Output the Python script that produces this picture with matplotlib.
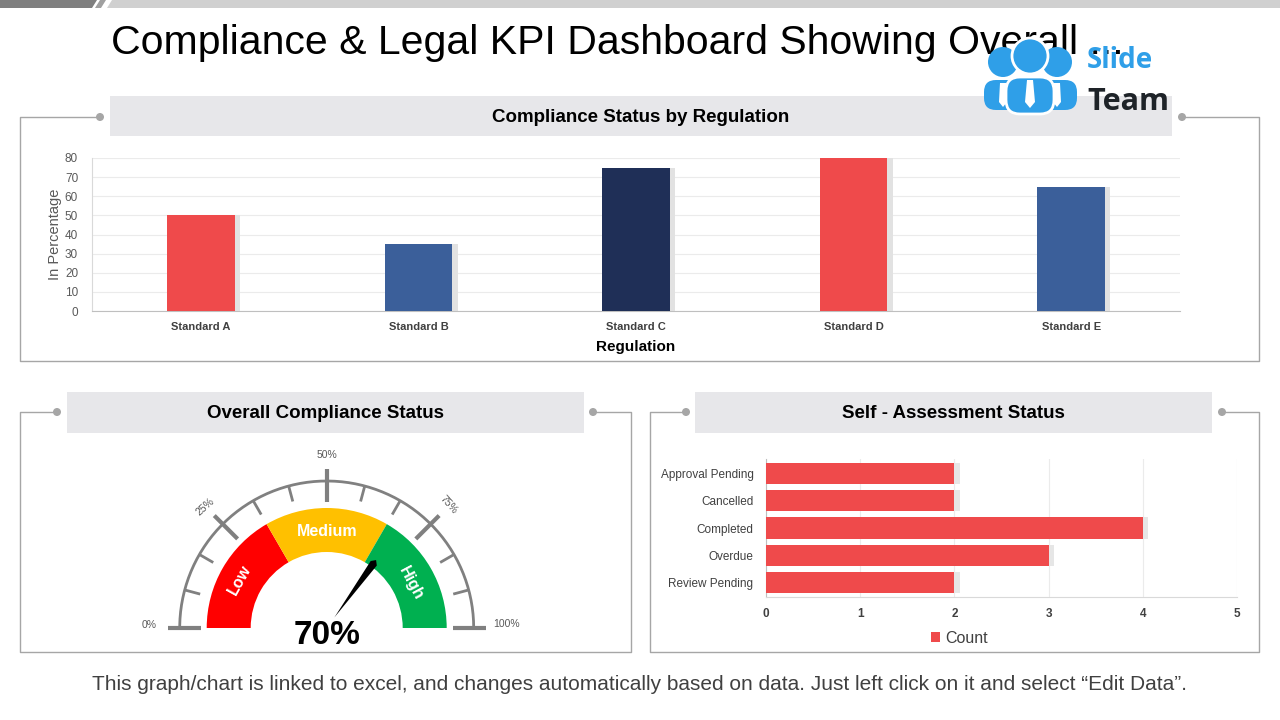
import numpy as np
import matplotlib
matplotlib.use("Agg")
import matplotlib.pyplot as plt
from matplotlib.patches import Rectangle, Circle, Wedge, Polygon, FancyBboxPatch

plt.rcParams['font.family'] = ['Liberation Sans', 'DejaVu Sans']

# data
standards = ["Standard A", "Standard B", "Standard C", "Standard D", "Standard E"]
compliance_pct = [50, 35, 75, 80, 65]
bar_colors = ["#ef4a4b", "#3b5f9a", "#1f2f57", "#ef4a4b", "#3b5f9a"]

overall_value = 70
zone_edges = [0, 33.3, 66.7, 100]
zone_names = ["Low", "Medium", "High"]
zone_colors = ["#ff0000", "#ffc000", "#00b050"]
gauge_labels = ["0%", "25%", "50%", "75%", "100%"]

statuses = ["Approval Pending", "Cancelled", "Completed", "Overdue", "Review Pending"]
status_counts = [2, 2, 4, 3, 2]

grey = "#a6a6a6"
text_dark = "#404040"

fig = plt.figure(figsize=(12.8, 7.2), dpi=100)

# background layer in pixel coords
bg = fig.add_axes([0, 0, 1, 1])
bg.set_xlim(0, 1280)
bg.set_ylim(720, 0)
bg.axis("off")

# top strip
bg.add_patch(Polygon([[0, 0], [97, 0], [92, 8], [0, 8]], color="#7f7f7f", lw=0))
bg.add_patch(Polygon([[100, 0], [106, 0], [101, 8], [95, 8]], color="#a0a0a0", lw=0))
bg.add_patch(Polygon([[112, 0], [1280, 0], [1280, 8], [107, 8]], color="#d0d0d0", lw=0))

bg.text(111, 43, "Compliance & Legal KPI Dashboard Showing Overall ...", fontsize=29.5,
        color="black", va="center", ha="left")

# logo
blue = "#2f9fe8"
for hx, bx0, bx1 in [(1003, 984, 1022), (1057, 1038, 1077)]:
    bg.add_patch(Circle((hx, 62), 15, color=blue, lw=0, zorder=5))
    bg.add_patch(FancyBboxPatch((bx0, 80), bx1 - bx0, 30, boxstyle="round,pad=0,rounding_size=12",
                                color=blue, lw=0, zorder=5))
    bg.add_patch(Polygon([[hx - 3, 83], [hx + 3, 83], [hx + 4, 102], [hx, 107], [hx - 4, 102]],
                         color="white", lw=0, zorder=5.5))
bg.add_patch(Circle((1030, 56), 18, facecolor=blue, edgecolor="white", lw=2, zorder=6))
bg.add_patch(FancyBboxPatch((1006, 77), 48, 37, boxstyle="round,pad=0,rounding_size=14",
                            facecolor=blue, edgecolor="white", lw=2, zorder=6))
bg.add_patch(Polygon([[1027, 80], [1033, 80], [1035, 102], [1030, 108], [1025, 102]],
                     color="white", lw=0, zorder=6.5))
bg.text(1087, 61, "Slide", fontsize=20, fontweight="bold", color=blue, va="center",
        family=["Open Sans", "DejaVu Sans"], zorder=7)
bg.text(1087, 102, "Team", fontsize=22, fontweight="bold", color="#1e2328", va="center",
        family=["Open Sans", "DejaVu Sans"], zorder=7)


def panel(x0, x1, y0, y1, hx0, hx1, hy0, hy1, title, dl, dr):
    bg.plot([dl, x0, x0, x1, x1, dr], [y0, y0, y1, y1, y0, y0], color=grey, lw=1)
    bg.add_patch(Circle((dl + 2, y0), 4, color=grey, lw=0))
    bg.add_patch(Circle((dr - 2, y0), 4, color=grey, lw=0))
    bg.add_patch(Rectangle((hx0, hy0), hx1 - hx0, hy1 - hy0, color="#e7e7ea", lw=0))
    bg.text((hx0 + hx1) / 2, (hy0 + hy1) / 2 + 1, title, fontsize=13.5, fontweight="bold",
            color="black", ha="center", va="center")


panel(20, 1259, 117, 361, 110, 1172, 96, 136, "Compliance Status by Regulation", 98, 1184)
panel(20, 631, 412, 652, 67, 584, 392, 433, "Overall Compliance Status", 55, 595)
panel(650, 1259, 412, 652, 695, 1212, 392, 433, "Self - Assessment Status", 684, 1224)

bg.text(640, 685, "This graph/chart is linked to excel, and changes automatically based on data. "
        "Just left click on it and select \u201cEdit Data\u201d.", fontsize=15, color=text_dark,
        ha="center", va="center")

# column chart
ax1 = fig.add_axes([92 / 1280, 1 - 311 / 720, 1088 / 1280, 153 / 720])
ax1.set_facecolor("none")
x = np.arange(len(standards))
ax1.bar(x + 0.025, compliance_pct, width=0.31, color="#e2e2e2", zorder=2)
ax1.bar(x, compliance_pct, width=0.31, color=bar_colors, zorder=3)
ax1.set_xlim(-0.5, len(standards) - 0.5)
ax1.set_ylim(0, 80)
ax1.set_yticks(range(0, 81, 10))
ax1.set_xticks(x)
ax1.set_xticklabels(standards, fontsize=8, fontweight="bold", color=text_dark)
ax1.tick_params(axis="y", labelsize=8.5, labelcolor="#595959", length=0, pad=10)
ax1.tick_params(axis="x", length=0, pad=8)
ax1.grid(axis="y", color="#ebebeb", lw=0.8, zorder=0)
for s in ["top", "right"]:
    ax1.spines[s].set_visible(False)
ax1.spines["left"].set_color("#d9d9d9")
ax1.spines["bottom"].set_color("#bfbfbf")
ax1.set_ylabel("In Percentage", fontsize=10.5, color="#595959", labelpad=2)
ax1.set_xlabel("Regulation", fontsize=11, fontweight="bold", color="black", labelpad=6)

# gauge, pixel units centred on the dial
cx, cy = 326.7, 628
gx0, gx1, gy0, gy1 = 130, 550, 440, 662
ax2 = fig.add_axes([gx0 / 1280, 1 - gy1 / 720, (gx1 - gx0) / 1280, (gy1 - gy0) / 720])
ax2.set_xlim(gx0 - cx, gx1 - cx)
ax2.set_ylim(cy - gy1, cy - gy0)
ax2.axis("off")


def ang(v):
    return 180 - v * 1.8


for i in range(3):
    ax2.add_patch(Wedge((0, 0), 120, ang(zone_edges[i + 1]), ang(zone_edges[i]), width=44,
                        color=zone_colors[i], lw=0))
label_pos = [(99, 151, 61), (96, 90, 0), (95, 28, -62)]
for name, (r, a, rot) in zip(zone_names, label_pos):
    ax2.text(r * np.cos(np.radians(a)), r * np.sin(np.radians(a)), name, fontsize=11.5,
             fontweight="bold", color="white", ha="center", va="center", rotation=rot)

t = np.linspace(0, np.pi, 200)
ax2.plot(147 * np.cos(t), 147 * np.sin(t), color="#808080", lw=2)
for k in range(13):
    a = np.radians(180 - k * 15)
    if k % 3 == 0:
        r0, r1, lw = 126, 159, 3
    else:
        r0, r1, lw = 131, 147, 2
    ax2.plot([r0 * np.cos(a), r1 * np.cos(a)], [r0 * np.sin(a), r1 * np.sin(a)],
             color="#808080", lw=lw, solid_capstyle="butt")
lab_xy = [(-178, 3, 0), (-121.7, 121, 42), (0, 173, 0), (121.7, 123, -48), (180, 4, 0)]
for lab, (lx, ly, rot) in zip(gauge_labels, lab_xy):
    ax2.text(lx, ly, lab, fontsize=7.5, color="#595959", ha="center", va="center", rotation=rot)

th = np.radians(ang(overall_value))
d = np.array([np.cos(th), np.sin(th)])
n = np.array([-np.sin(th), np.cos(th)])
ax2.add_patch(Polygon([13 * d, 80 * d + 3.8 * n, 84 * d, 80 * d - 3.8 * n], color="black", lw=0))
ax2.text(0, -8, f"{overall_value}%", fontsize=24, fontweight="bold", color="black",
         ha="center", va="center")

# horizontal bar chart
ax3 = fig.add_axes([766 / 1280, 1 - 597 / 720, 471 / 1280, 138 / 720])
ax3.set_facecolor("none")
y = np.arange(len(statuses))
ax3.barh(y, np.array(status_counts) + 0.06, height=0.78, color="#e6e6e6", zorder=2)
ax3.barh(y, status_counts, height=0.78, color="#ef4a4b", zorder=3, label="Count")
ax3.set_ylim(len(statuses) - 0.48, -0.52)
ax3.set_xlim(0, 5)
ax3.set_yticks(y)
ax3.set_yticklabels(statuses, fontsize=8.5, color=text_dark)
ax3.set_xticks(range(6))
ax3.tick_params(axis="x", labelsize=8.5, labelcolor=text_dark, length=0, pad=8)
ax3.tick_params(axis="y", length=0, pad=9)
for lab in ax3.get_xticklabels():
    lab.set_fontweight("bold")
ax3.grid(axis="x", color="#ebebeb", lw=0.8, zorder=0)
for s in ["top", "right"]:
    ax3.spines[s].set_visible(False)
ax3.spines["left"].set_color("#bfbfbf")
ax3.spines["bottom"].set_color("#d9d9d9")
ax3.legend(loc="center", bbox_to_anchor=(0.41, -0.3), frameon=False, fontsize=11.5,
           handlelength=0.6, handleheight=0.6, handletextpad=0.3, labelcolor=text_dark)

fig.savefig("out.png", dpi=100)
